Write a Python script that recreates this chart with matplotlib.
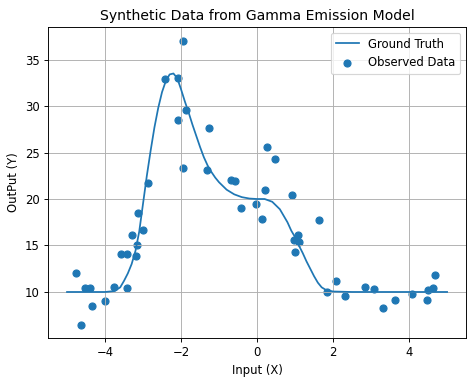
import matplotlib
matplotlib.use("Agg")
import matplotlib.pyplot as plt

# Ground truth curve
truth_x = [-5.0, -4.5, -4.0, -3.75, -3.6, -3.5, -3.4, -3.3, -3.2, -3.1, -3.0,
           -2.9, -2.8, -2.7, -2.6, -2.5, -2.4, -2.3, -2.2, -2.1, -2.0, -1.9,
           -1.8, -1.7, -1.6, -1.5, -1.4, -1.3, -1.2, -1.1, -1.0, -0.8, -0.6,
           -0.4, -0.2, 0.0, 0.2, 0.4, 0.5, 0.6, 0.7, 0.8, 0.9, 1.0, 1.1, 1.2,
           1.3, 1.4, 1.5, 1.6, 1.7, 1.8, 2.0, 2.5, 3.0, 4.0, 5.0]
truth_y = [10.0, 10.0, 10.0, 10.1, 10.5, 11.2, 12.0, 13.0, 14.4, 16.5, 19.5,
           22.5, 25.2, 27.7, 29.8, 31.5, 32.7, 33.4, 33.5, 33.0, 31.8, 30.5,
           29.3, 28.0, 26.8, 25.6, 24.5, 23.6, 22.9, 22.3, 21.8, 21.0, 20.5,
           20.2, 20.05, 20.0, 20.0, 19.7, 19.3, 18.9, 18.2, 17.5, 16.6, 15.9,
           15.0, 14.2, 13.3, 12.5, 11.7, 11.0, 10.5, 10.25, 10.05, 10.0, 10.0,
           10.0, 10.0]

# Observed data points
obs_x = [-4.76, -4.63, -4.53, -4.40, -4.33, -4.01, -3.77, -3.59, -3.41, -3.41,
         -3.29, -3.15, -3.18, -3.13, -2.99, -2.87, -2.41, -2.08, -2.08, -1.95,
         -1.95, -1.87, -1.26, -1.32, -0.69, -0.59, -0.43, -0.04, 0.13, 0.20,
         0.25, 0.46, 0.93, 0.97, 1.01, 1.07, 1.11, 1.62, 1.83, 2.08,
         2.32, 2.83, 3.07, 3.32, 3.64, 4.08, 4.46, 4.49, 4.64, 4.68]
obs_y = [12.02, 6.48, 10.44, 10.44, 8.46, 9.0, 10.55, 14.07, 14.07, 10.44,
         16.08, 15.08, 13.89, 18.53, 16.62, 21.69, 32.88, 33.05, 28.52, 36.98,
         23.34, 29.54, 27.63, 23.17, 22.09, 21.99, 19.07, 19.43, 17.81, 21.01,
         25.61, 24.28, 20.45, 15.62, 14.28, 16.08, 15.33, 17.70, 10.01, 11.20,
         9.61, 10.55, 10.37, 8.28, 9.10, 9.80, 9.18, 10.18, 10.44, 11.80]

# 84 dpi so text and marks come out at the reference's scale
fig = plt.figure(figsize=(474 / 84, 383 / 84), dpi=84)
ax = fig.add_axes([0.1013, 0.1175, 0.882, 0.812])

ax.plot(truth_x, truth_y, color='tab:blue', label='Ground Truth')
ax.scatter(obs_x, obs_y, color='tab:blue', label='Observed Data')

ax.set_ylim(5.05, 38.5)
ax.set_title('Synthetic Data from Gamma Emission Model')
ax.set_xlabel('Input (X)')
ax.set_ylabel('OutPut (Y)')
ax.grid(True)
ax.legend(loc='upper right')

fig.savefig('out.png', dpi=84)
